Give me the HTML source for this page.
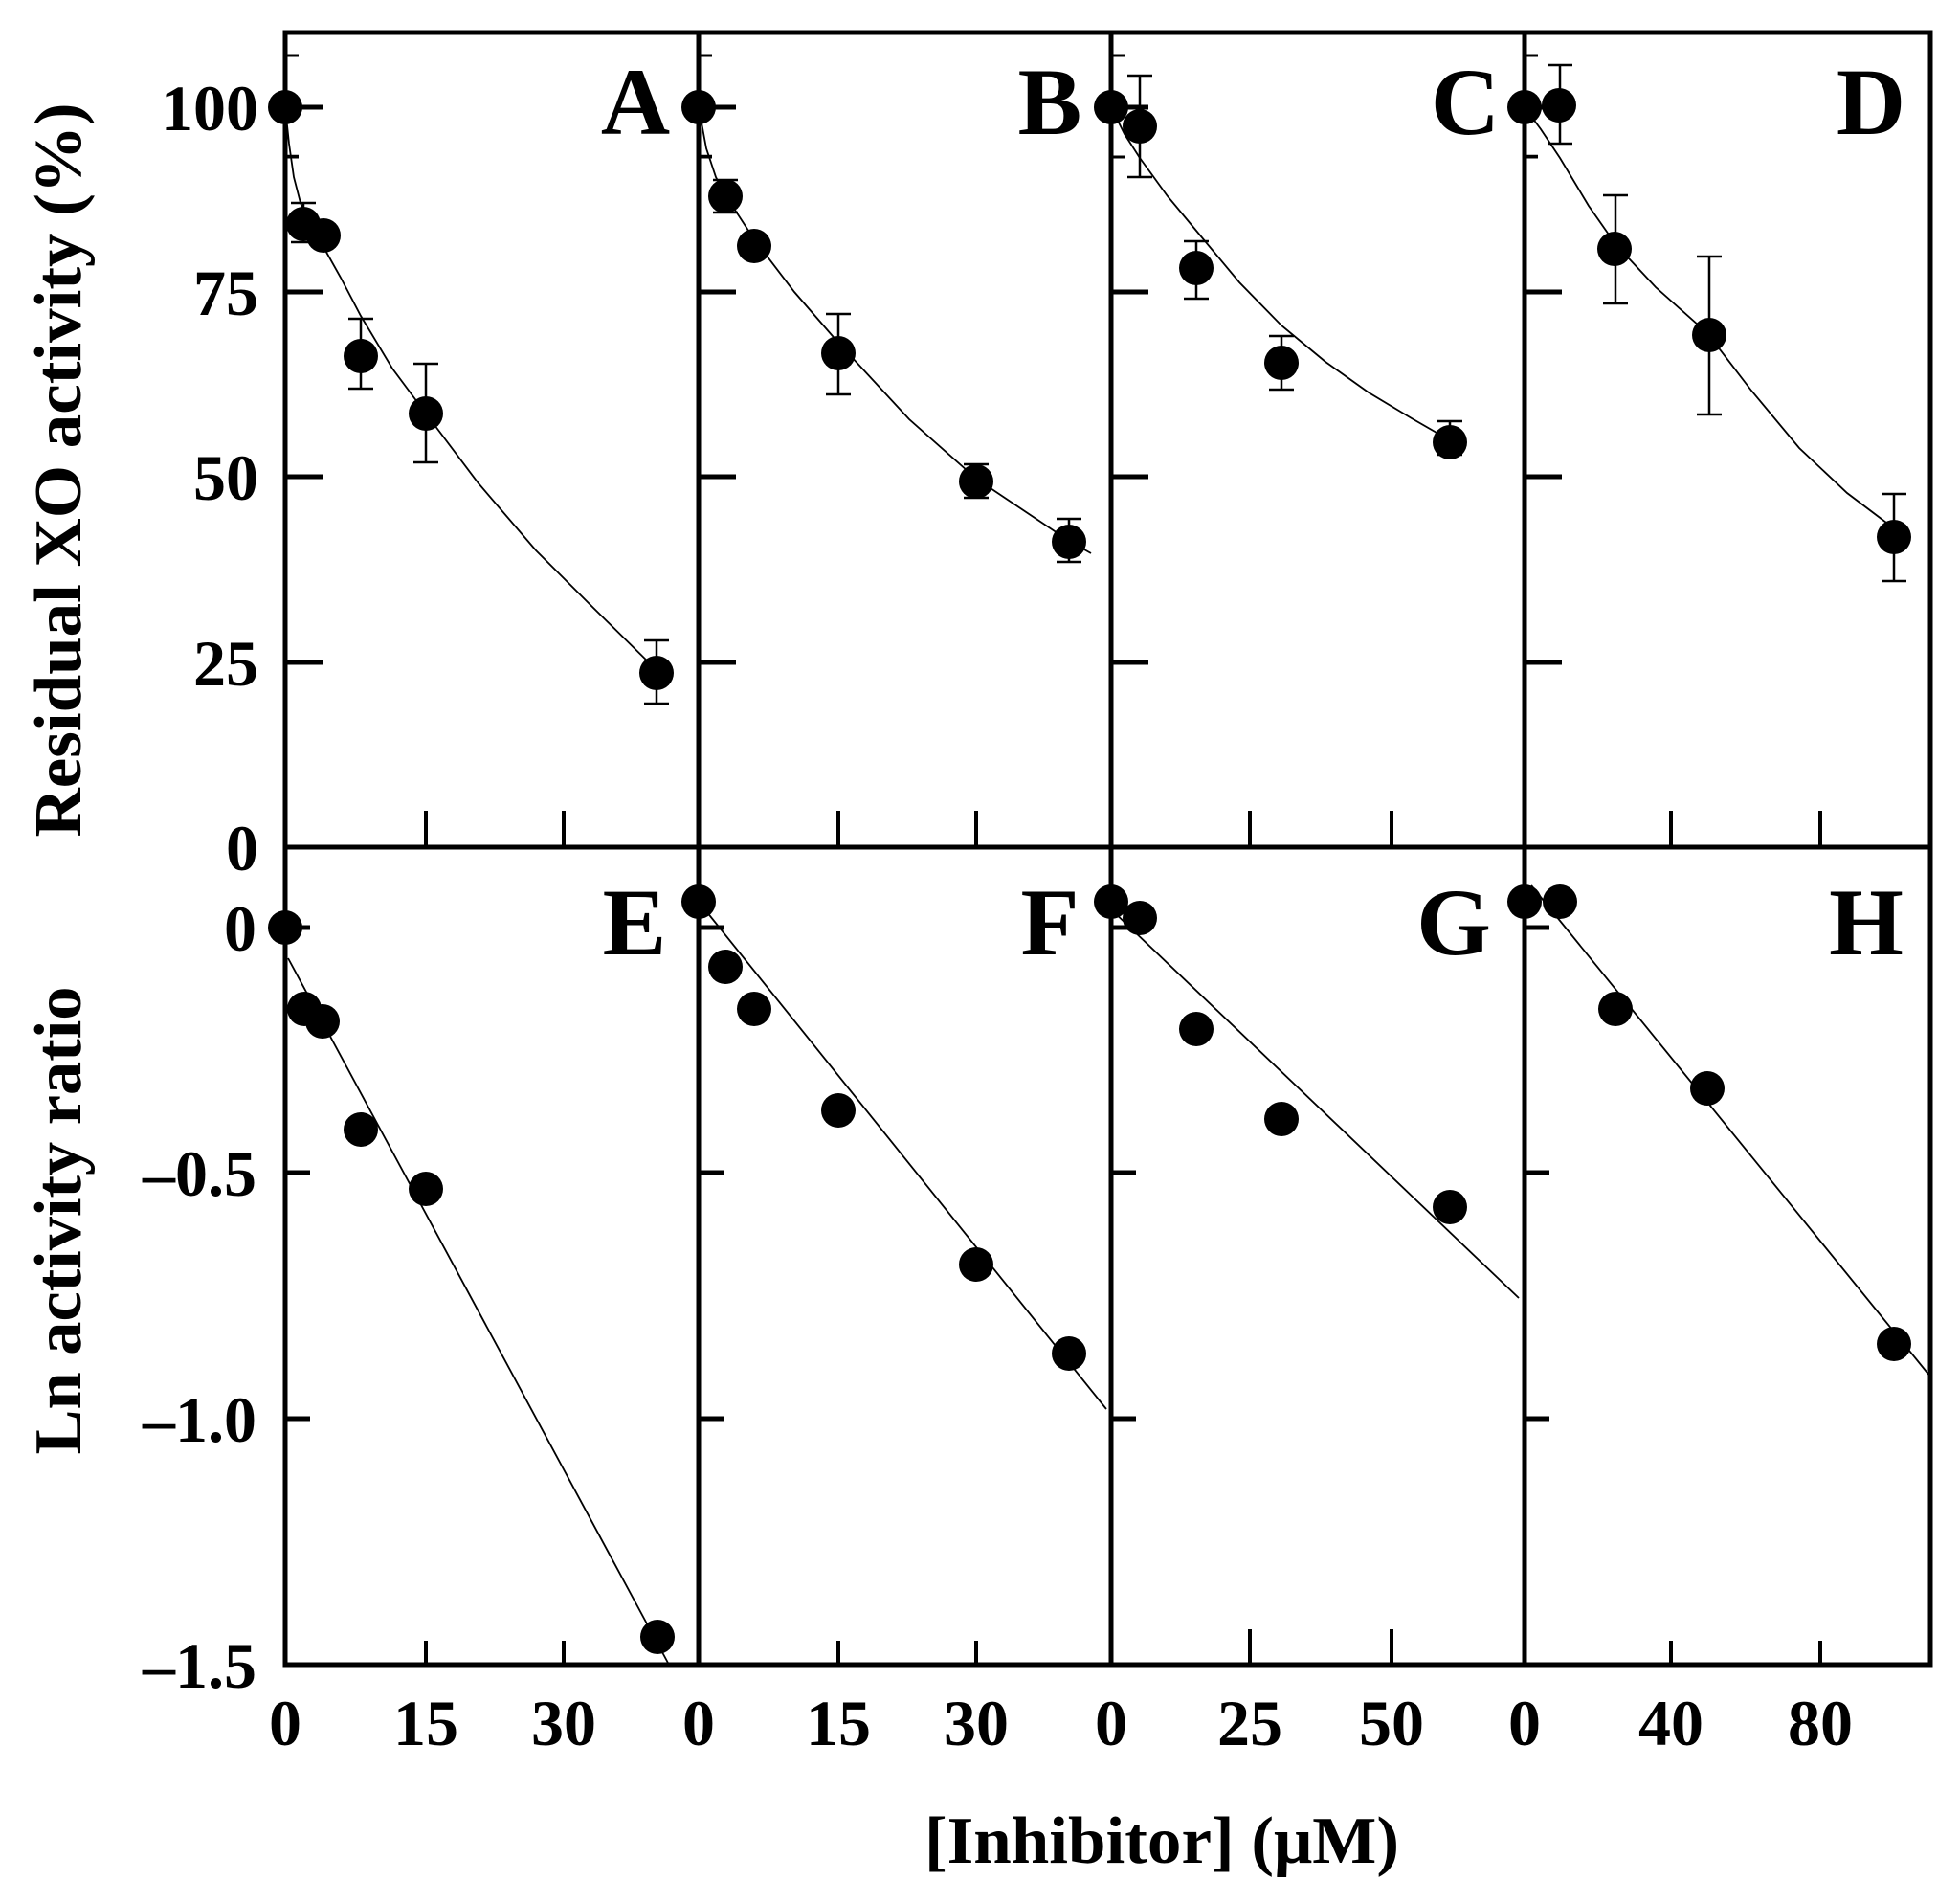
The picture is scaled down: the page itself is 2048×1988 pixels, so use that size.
<!DOCTYPE html>
<html><head><meta charset="utf-8"><style>html,body{margin:0;padding:0;background:#fff}svg{display:block}</style></head><body>
<svg width="2048" height="1988" viewBox="0 0 2048 1988" xmlns="http://www.w3.org/2000/svg" font-family="Liberation Serif, serif" font-weight="bold">
<rect width="2048" height="1988" fill="#fff"/>
<g stroke="#000" fill="none">
<!-- frame -->
<rect x="298" y="34" width="1719" height="1705" stroke-width="5"/>
<line x1="298" y1="885" x2="2017" y2="885" stroke-width="5"/>
<line x1="730" y1="34" x2="730" y2="1739" stroke-width="5"/>
<line x1="1161" y1="34" x2="1161" y2="1739" stroke-width="5"/>
<line x1="1593" y1="34" x2="1593" y2="1739" stroke-width="5"/>
<!-- y ticks top -->
<g stroke-width="5">
<path d="M298 112h39M298 305h39M298 498h39M298 692h39"/>
<path d="M730 112h39M730 305h39M730 498h39M730 692h39"/>
<path d="M1161 112h39M1161 305h39M1161 498h39M1161 692h39"/>
<path d="M1593 112h39M1593 305h39M1593 498h39M1593 692h39"/>
<path d="M298 969h26M298 1225h26M298 1482h26"/>
<path d="M730 969h26M730 1225h26M730 1482h26"/>
<path d="M1161 969h26M1161 1225h26M1161 1482h26"/>
<path d="M1593 969h26M1593 1225h26M1593 1482h26"/>
</g>
<g stroke-width="3">
<path d="M298 58h14M298 164h14M730 58h14M730 164h14M1161 58h14M1161 164h14M1593 58h14M1593 164h14"/>
</g>
<!-- x ticks -->
<g stroke-width="4">
<path d="M445 885v-38M589 885v-38M876 885v-38M1020 885v-38M1306 885v-38M1454 885v-38M1746 885v-38M1902 885v-38"/>
<path d="M445 1739v-25M589 1739v-25M876 1739v-25M1020 1739v-25M1306 1739v-37M1454 1739v-37M1746 1739v-25M1902 1739v-25"/>
</g>
<!-- curves -->
<g stroke-width="1.8">
<polyline points="298,112 302,150 307,185 314,212 324,236 338,258 356,290 377,330 410,385 445,432 500,505 560,575 620,635 686,700"/>
<polyline points="730,112 738,155 748,185 758,204 788,250 830,305 876,358 950,438 1020,500 1117,565 1140,578"/>
<polyline points="1161,112 1175,140 1191,165 1220,205 1250,241 1295,295 1339,340 1385,378 1430,410 1475,437 1515,460"/>
<polyline points="1593,112 1610,135 1630,165 1660,215 1688,255 1730,300 1784,348 1830,408 1880,468 1930,515 1979,552"/>
<line x1="301" y1="1001" x2="699" y2="1739"/>
<line x1="730" y1="942" x2="1156" y2="1472"/>
<line x1="1161" y1="950" x2="1587" y2="1356"/>
<line x1="1600" y1="925" x2="2017" y2="1438"/>
</g>
<!-- error bars -->
<g stroke-width="2.5">
<path d="M298 58v105M298 58h14M298 163h14"/>
<path d="M317 212v41M304 212h26M304 253h26"/>
<path d="M377 333v73M364 333h26M364 406h26"/>
<path d="M445 380v103M432 380h26M432 483h26"/>
<path d="M686 669v66M673 669h26M673 735h26"/>
<path d="M730 58v105M730 58h14M730 163h14"/>
<path d="M758 188v34M745 188h26M745 222h26"/>
<path d="M876 328v84M863 328h26M863 412h26"/>
<path d="M1020 485v35M1007 485h26M1007 520h26"/>
<path d="M1117 542v45M1104 542h26M1104 587h26"/>
<path d="M1191 79v106M1178 79h26M1178 185h26"/>
<path d="M1250 252v60M1237 252h26M1237 312h26"/>
<path d="M1339 351v56M1326 351h26M1326 407h26"/>
<path d="M1515 440v35M1502 440h26M1502 475h26"/>
<path d="M1593 58v105M1593 58h14M1593 163h14"/>
<path d="M1630 68v82M1617 68h26M1617 150h26"/>
<path d="M1688 204v113M1675 204h26M1675 317h26"/>
<path d="M1786 268v165M1773 268h26M1773 433h26"/>
<path d="M1979 516v91M1966 516h26M1966 607h26"/>
</g>
</g>
<!-- markers -->
<g fill="#000">
<circle cx="298" cy="112" r="18"/><circle cx="317" cy="234" r="18"/><circle cx="338" cy="246" r="18"/><circle cx="377" cy="372" r="18"/><circle cx="445" cy="432" r="18"/><circle cx="686" cy="703" r="18"/>
<circle cx="730" cy="112" r="18"/><circle cx="758" cy="205" r="18"/><circle cx="788" cy="257" r="18"/><circle cx="876" cy="369" r="18"/><circle cx="1020" cy="503" r="18"/><circle cx="1117" cy="566" r="18"/>
<circle cx="1161" cy="112" r="18"/><circle cx="1191" cy="132" r="18"/><circle cx="1250" cy="280" r="18"/><circle cx="1339" cy="379" r="18"/><circle cx="1515" cy="462" r="18"/>
<circle cx="1593" cy="112" r="18"/><circle cx="1629" cy="110" r="18"/><circle cx="1687" cy="260" r="18"/><circle cx="1786" cy="350" r="18"/><circle cx="1979" cy="561" r="18"/>
<circle cx="298" cy="969" r="18"/><circle cx="318" cy="1054" r="18"/><circle cx="337" cy="1067" r="18"/><circle cx="377" cy="1180" r="18"/><circle cx="445" cy="1242" r="18"/><circle cx="687" cy="1710" r="18"/>
<circle cx="730" cy="942" r="18"/><circle cx="758" cy="1010" r="18"/><circle cx="788" cy="1054" r="18"/><circle cx="876" cy="1160" r="18"/><circle cx="1020" cy="1321" r="18"/><circle cx="1117" cy="1414" r="18"/>
<circle cx="1161" cy="942" r="18"/><circle cx="1191" cy="959" r="18"/><circle cx="1250" cy="1075" r="18"/><circle cx="1339" cy="1169" r="18"/><circle cx="1515" cy="1261" r="18"/>
<circle cx="1593" cy="942" r="18"/><circle cx="1630" cy="942" r="18"/><circle cx="1688" cy="1054" r="18"/><circle cx="1784" cy="1137" r="18"/><circle cx="1979" cy="1404" r="18"/>
</g>
<!-- panel letters -->
<g font-size="100" text-anchor="middle" fill="#000">
<text x="664" y="140">A</text><text x="1097" y="140">B</text><text x="1531" y="140">C</text><text x="1955" y="140">D</text>
<text x="663" y="997">E</text><text x="1097" y="997">F</text><text x="1519" y="997">G</text><text x="1950" y="997">H</text>
</g>
<!-- y tick labels -->
<g font-size="68" text-anchor="end" fill="#000">
<text x="270" y="136">100</text><text x="270" y="329">75</text><text x="270" y="522">50</text><text x="270" y="716">25</text><text x="270" y="909">0</text>
<text x="268" y="993">0</text><text x="268" y="1249">–0.5</text><text x="268" y="1506">–1.0</text><text x="268" y="1763">–1.5</text>
</g>
<!-- x tick labels -->
<g font-size="68" text-anchor="middle" fill="#000">
<text x="298" y="1823">0</text><text x="445" y="1823">15</text><text x="589" y="1823">30</text>
<text x="730" y="1823">0</text><text x="876" y="1823">15</text><text x="1020" y="1823">30</text>
<text x="1161" y="1823">0</text><text x="1306" y="1823">25</text><text x="1454" y="1823">50</text>
<text x="1593" y="1823">0</text><text x="1746" y="1823">40</text><text x="1902" y="1823">80</text>
</g>
<!-- axis titles -->
<text x="1214" y="1946" font-size="70" text-anchor="middle" textLength="496" lengthAdjust="spacingAndGlyphs">[Inhibitor] (μM)</text>
<text transform="translate(84,491) rotate(-90)" font-size="70" text-anchor="middle" textLength="767" lengthAdjust="spacingAndGlyphs">Residual XO activity (%)</text>
<text transform="translate(84,1275) rotate(-90)" font-size="70" text-anchor="middle" textLength="489" lengthAdjust="spacingAndGlyphs">Ln activity ratio</text>
</svg>
</body></html>
